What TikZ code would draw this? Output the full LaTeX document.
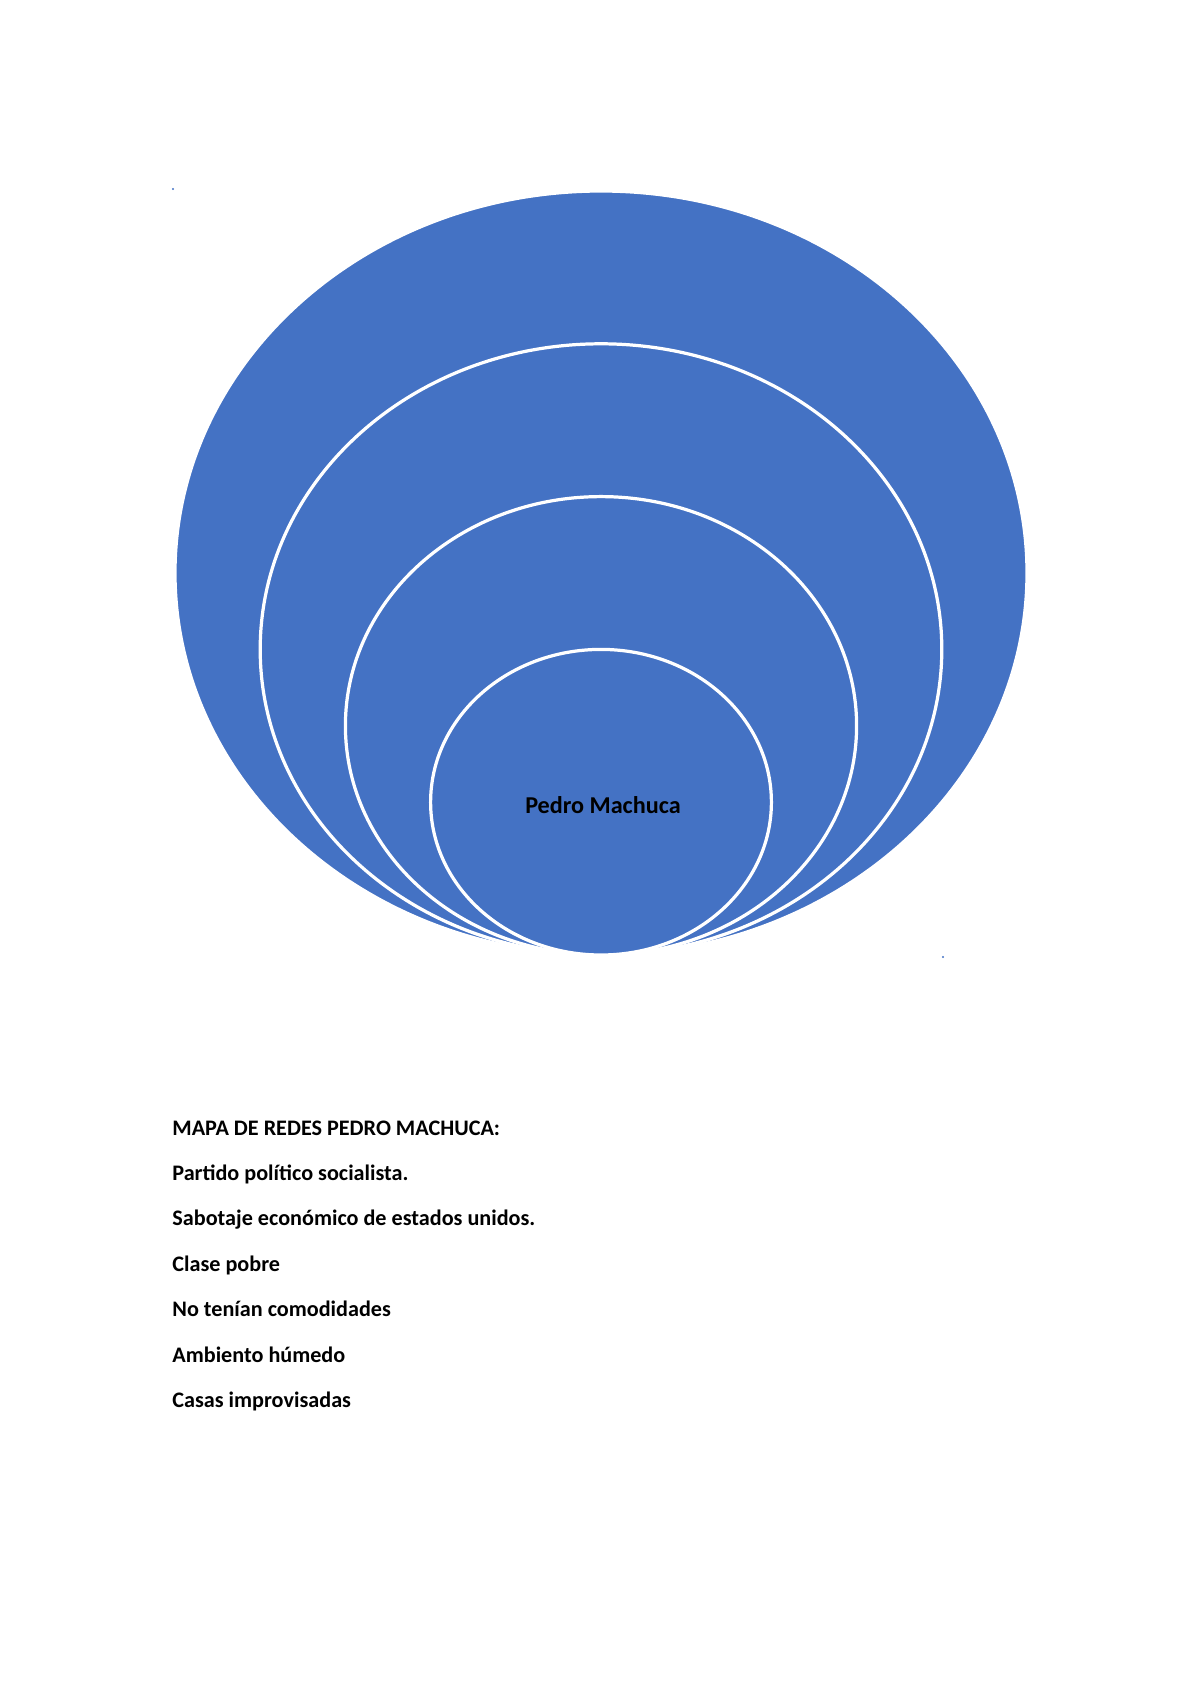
\documentclass[tikz,border=0pt]{standalone}
\usepackage{fontspec}
\setmainfont{Carlito}
\definecolor{azulred}{HTML}{4472C4}
\tikzset{
    anillo/.style={fill=azulred, draw=white, line width=1.6pt},
    lista/.style={anchor=base west, inner sep=0pt, font=\fontsize{11}{13}\selectfont\bfseries}
}
\begin{document}
\begin{tikzpicture}[x=0.4961pt, y=-0.4961pt]
\useasboundingbox (0,0) rectangle (1200,1698);
% anillos, todos tocan abajo en y=955
\foreach \s in {1,.8,.6,.4}
{
    \filldraw[anillo] (601,{955-382*\s}) ellipse ({426*\s} and {382*\s});
}
\node[font=\fontsize{12}{14}\selectfont\bfseries] (centro) at (603,805) {Pedro Machuca};

% puntos de las esquinas
\fill[azulred] (173,189) circle (1.2);
\fill[azulred] (943,957) circle (1.2);

\foreach \i/\t in {0/{MAPA DE REDES PEDRO MACHUCA:},
                   1/{Partido político socialista.},
                   2/{Sabotaje económico de estados unidos.},
                   3/{Clase pobre},
                   4/{No tenían comodidades},
                   5/{Ambiento húmedo},
                   6/{Casas improvisadas}}
{
    \node[lista] (linea\i) at (172,1135+45.4*\i) {\t};
}
\end{tikzpicture}
\end{document}
